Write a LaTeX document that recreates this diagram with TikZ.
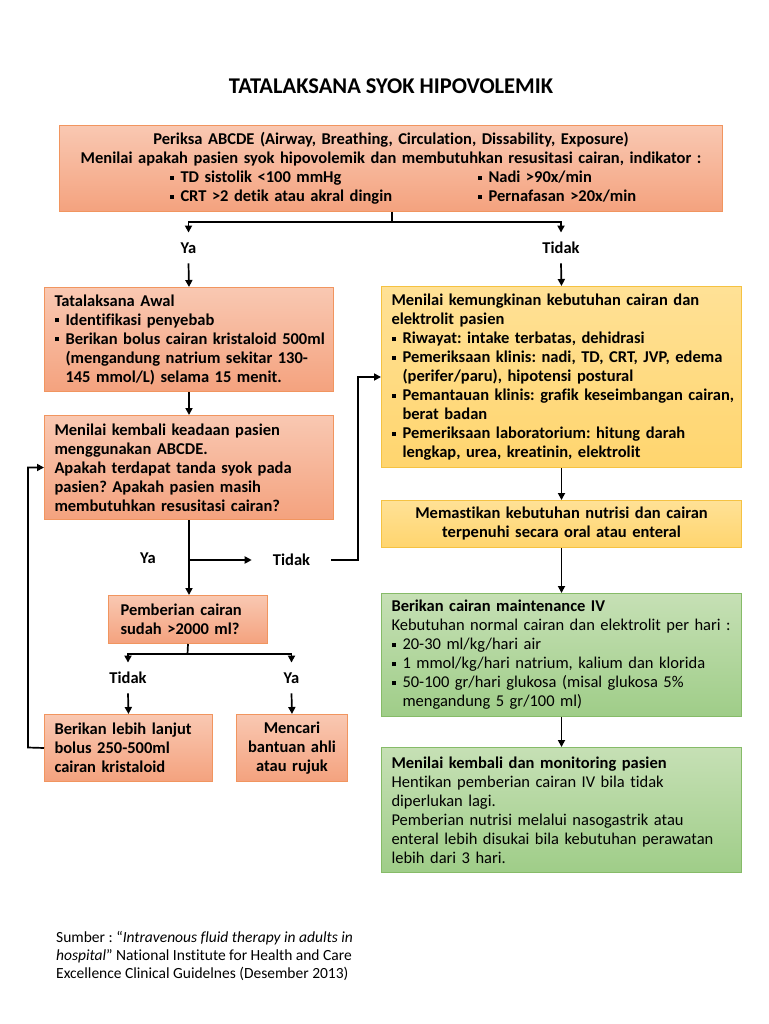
\documentclass[tikz,border=0pt]{standalone}
\usepackage{fontspec}
\setmainfont{Carlito}[Ligatures={NoCommon}]
\usetikzlibrary{arrows.meta}
\newcommand\bul{\makebox[11pt][l]{\raisebox{2.8pt}{\rule{4pt}{4pt}}}}
\newcommand\ind{\hspace*{11pt}}
\definecolor{otop}{HTML}{F9C8B2}
\definecolor{obot}{HTML}{F4A27E}
\definecolor{odraw}{HTML}{F1955F}
\definecolor{ytop}{HTML}{FFE196}
\definecolor{ybot}{HTML}{FFD56E}
\definecolor{ydraw}{HTML}{F5C242}
\definecolor{gtop}{HTML}{C6E0B5}
\definecolor{gbot}{HTML}{9FCD88}
\definecolor{gdraw}{HTML}{86BB68}
\begin{document}
\begin{tikzpicture}[x=1pt,y=-1pt,
  base/.style={anchor=north west, line width=1pt, inner xsep=10pt, inner ysep=2pt,
    font=\fontsize{16.5}{19}\selectfont\bfseries\frenchspacing, align=left},
  obox/.style={base, draw=odraw, top color=otop, bottom color=obot},
  ybox/.style={base, draw=ydraw, top color=ytop, bottom color=ybot},
  gbox/.style={base, draw=gdraw, top color=gtop, bottom color=gbot},
  lbl/.style={font=\fontsize{16.5}{19}\selectfont\bfseries, text height=10.5pt, text depth=0pt, inner xsep=0pt, inner ysep=10pt},
  conn/.style={line width=1.7pt},
  arr/.style={conn, -{Triangle[length=7pt,width=7pt]}}]
\useasboundingbox (0,0) rectangle (768,1024);
\fill[white] (0,0) rectangle (768,1024);

\node[font=\fontsize{22.5}{26}\selectfont\bfseries] (title) at (391,86) {TATALAKSANA SYOK HIPOVOLEMIK};

\node[obox, align=center, minimum width=663pt, minimum height=86pt, text width=643pt] (top) at (59,125)
 {\mbox{Periksa ABCDE (Airway, Breathing, Circulation, Dissability, Exposure)}\\
  \mbox{Menilai apakah pasien syok hipovolemik dan membutuhkan resusitasi cairan, indikator :}\\
  \makebox[643pt][l]{\hspace*{100pt}\makebox[308pt][l]{\bul TD sistolik <100 mmHg}\bul Nadi >90x/min}\\
  \makebox[643pt][l]{\hspace*{100pt}\makebox[308pt][l]{\bul CRT >2 detik atau akral dingin}\bul Pernafasan >20x/min}};

\node[lbl] (ya1) at (188.5,248) {Ya};
\node[lbl] (tidak1) at (561,248) {Tidak};

\node[obox, minimum width=289pt, minimum height=104pt, text width=269pt] (awal) at (44,287)
 {\mbox{Tatalaksana Awal}\\
  \mbox{\bul Identifikasi penyebab}\\
  \mbox{\bul Berikan bolus cairan kristaloid 500ml}\\
  \mbox{\ind(mengandung natrium sekitar 130-}\\
  \mbox{\ind145 mmol/L) selama 15 menit.}};

\node[obox, minimum width=289pt, minimum height=104pt, text width=269pt] (nilai) at (44,415)
 {\mbox{Menilai kembali keadaan pasien}\\
  \mbox{menggunakan ABCDE.}\\
  \mbox{Apakah terdapat tanda syok pada}\\
  \mbox{pasien? Apakah pasien masih}\\
  \mbox{membutuhkan resusitasi cairan?}};

\node[lbl] (ya2) at (148,558) {Ya};
\node[lbl, inner xsep=21pt] (tidak2) at (291.5,560) {Tidak};

\node[obox, inner xsep=12pt, minimum width=159pt, minimum height=48pt, text width=135pt] (pem) at (108,595)
 {\mbox{Pemberian cairan}\\ \mbox{sudah >2000 ml?}};

\node[lbl] (tidak3) at (128,678) {Tidak};
\node[lbl] (ya3) at (291.5,678) {Ya};

\node[obox, minimum width=168pt, minimum height=67pt, text width=148pt] (lanjut) at (44,714)
 {\mbox{Berikan lebih lanjut}\\ \mbox{bolus 250-500ml}\\ \mbox{cairan kristaloid}};

\node[obox, align=center, inner xsep=4pt, minimum width=111pt, minimum height=67pt, text width=103pt] (cari) at (236,714)
 {Mencari\\ \mbox{bantuan ahli}\\ \mbox{atau rujuk}};

\node[ybox, minimum width=360pt, minimum height=181pt, text width=340pt] (y1) at (381,286)
 {\mbox{Menilai kemungkinan kebutuhan cairan dan}\\
  \mbox{elektrolit pasien}\\
  \mbox{\bul Riwayat: intake terbatas, dehidrasi}\\
  \mbox{\bul Pemeriksaan klinis: nadi, TD, CRT, JVP, edema}\\
  \mbox{\ind(perifer/paru), hipotensi postural}\\
  \mbox{\bul Pemantauan klinis: grafik keseimbangan cairan,}\\
  \mbox{\ind berat badan}\\
  \mbox{\bul Pemeriksaan laboratorium: hitung darah}\\
  \mbox{\ind lengkap, urea, kreatinin, elektrolit}};

\node[ybox, align=center, minimum width=360pt, minimum height=47pt, text width=340pt] (y2) at (381,500)
 {\mbox{Memastikan kebutuhan nutrisi dan cairan}\\ \mbox{terpenuhi secara oral atau enteral}};

\node[gbox, minimum width=360pt, minimum height=123pt, text width=340pt] (g1) at (381,593)
 {\mbox{Berikan cairan maintenance IV}\\
  \mdseries\mbox{Kebutuhan normal cairan dan elektrolit per hari :}\\
  \mdseries\mbox{\bul 20-30 ml/kg/hari air}\\
  \mdseries\mbox{\bul 1 mmol/kg/hari natrium, kalium dan klorida}\\
  \mdseries\mbox{\bul 50-100 gr/hari glukosa (misal glukosa 5\%}\\
  \mdseries\mbox{\ind mengandung 5 gr/100 ml)}};

\node[gbox, minimum width=360pt, minimum height=125pt, text width=340pt] (g2) at (381,747)
 {\mbox{Menilai kembali dan monitoring pasien}\\
  \mdseries\mbox{Hentikan pemberian cairan IV bila tidak}\\
  \mdseries\mbox{diperlukan lagi.}\\
  \mdseries\mbox{Pemberian nutrisi melalui nasogastrik atau}\\
  \mdseries\mbox{enteral lebih disukai bila kebutuhan perawatan}\\
  \mdseries\mbox{lebih dari 3 hari.}};

\node[anchor=north west, align=left, inner sep=0pt, font=\fontsize{15.5}{18}\selectfont\frenchspacing] (src) at (56,931)
 {\mbox{Sumber : “\textit{Intravenous fluid therapy in adults in}}\\
  \mbox{\textit{hospital}” National Institute for Health and Care}\\
  \mbox{Excellence Clinical Guidelnes (Desember 2013)}};

% connectors
\coordinate (j1) at (392,222);
\draw[conn] (top.south -| j1) -- (j1);
\draw[arr] (j1) -| (ya1.north);
\draw[arr] (j1) -| (tidak1.north);
\draw[arr] (ya1.south) -- (awal.north);
\draw[arr] (tidak1.south) -- (y1.north);
\draw[arr] (awal.south) -- (nilai.north);
\draw[arr] (nilai.south) -- (nilai.south |- pem.north);
\coordinate (j2) at (188.5,560);
\draw[arr] (j2) -- (tidak2.west);
\coordinate (c1) at (358,560);
\draw[arr] (tidak2.east) -- (c1) |- (y1.west);
\coordinate (j3) at (187.5,654);
\draw[conn] (pem.south) -- (j3);
\draw[arr] (j3) -| (tidak3.north);
\draw[arr] (j3) -| (ya3.north);
\draw[arr] (tidak3.south) -- (lanjut.north);
\draw[arr] (ya3.south) -- (cari.north);
\coordinate (c2) at (28,747.5);
\draw[arr] (lanjut.west) -- (c2) |- (nilai.west);
\draw[arr] (y1.south) -- (y2.north);
\draw[arr] (y2.south) -- (g1.north);
\draw[arr] (g1.south) -- (g2.north);
\end{tikzpicture}
\end{document}
